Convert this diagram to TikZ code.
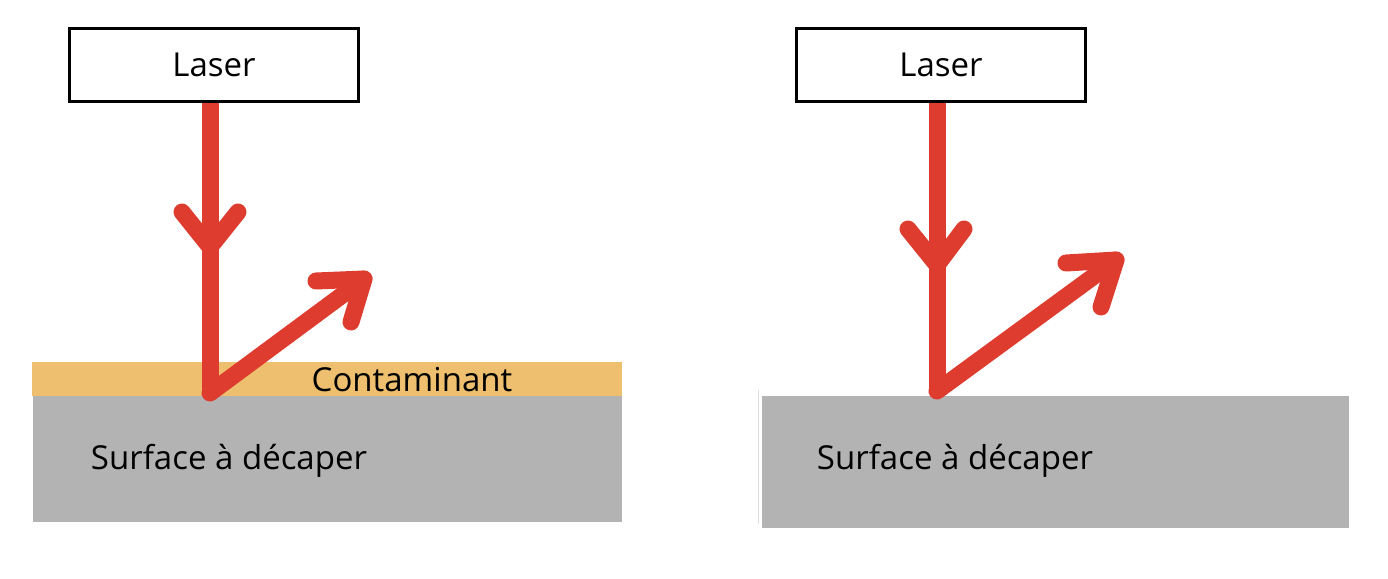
\documentclass[tikz,border=0pt]{standalone}
\usepackage{fontspec}
\setmainfont{Open Sans}
\definecolor{laserred}{RGB}{222,60,46}
\definecolor{contam}{RGB}{237,191,110}
\definecolor{surf}{RGB}{179,179,179}
\begin{document}
\begin{tikzpicture}[x=1pt,y=-1pt,
  lbox/.style={draw=black,line width=3pt,fill=white,minimum width=289pt,minimum height=73pt,inner sep=0pt,font=\fontsize{33}{38}\selectfont},
  beam/.style={draw=laserred,line width=17pt,line cap=round,line join=round},
  lbl/.style={font=\fontsize{33}{38}\selectfont,inner sep=0pt,anchor=center}]
\useasboundingbox (0,0) rectangle (1388,578);
% left panel
\fill[contam] (32,362) rectangle (622,396);
\fill[surf] (33,396) rectangle (622,522);
\node[lbl] (contL) at (412,380) {Contaminant};
\node[lbl] (surfL) at (229,461) {Surface à décaper};
\node[lbox] (laserL) at (214,65) {\raisebox{-2pt}{Laser}};
\coordinate (hitL) at (210,393);
\coordinate (tipL) at (364,279);
\draw[beam,line cap=butt] (laserL.south -| hitL) -- (hitL);
\draw[beam] (182,212) -- (210,247) -- (238,212);
\draw[beam] (hitL) -- (tipL);
\draw[beam] (316,281) -- (tipL) -- (351,322);
% right panel
\draw[gray!25,line width=1pt] (758,390) -- (758,524);
\fill[surf] (762,396) rectangle (1349,528);
\node[lbl] (surfR) at (955,461) {Surface à décaper};
\node[lbox] (laserR) at (941,65) {\raisebox{-2pt}{Laser}};
\coordinate (hitR) at (937,391);
\coordinate (tipR) at (1116,260);
\draw[beam,line cap=butt] (laserR.south -| hitR) -- (hitR);
\draw[beam] (908,229) -- (937,265) -- (964,229);
\draw[beam] (hitR) -- (tipR);
\draw[beam] (1066,263) -- (tipR) -- (1101,307);
\end{tikzpicture}
\end{document}
